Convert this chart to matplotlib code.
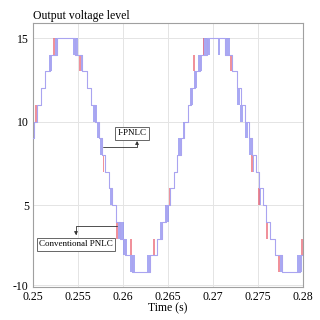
import matplotlib
matplotlib.use("Agg")
import matplotlib.pyplot as plt
import numpy as np

plt.rcParams['font.family'] = ['Liberation Serif', 'DejaVu Serif']

# staircase: switching instants (ms) and the level reached after each one
start_level = 8
edges_ms = [249.72, 250.10, 250.50, 250.92, 251.38, 251.93, 252.69,
            254.70, 255.46, 256.01, 256.47, 256.89, 257.29, 257.67, 258.05,
            258.45, 258.83, 259.25, 259.71, 260.26, 261.02,
            263.04, 263.80, 264.35, 264.81, 265.23, 265.63, 266.01, 266.39,
            266.77, 267.17, 267.59, 268.05, 268.60, 269.36,
            271.37, 272.13, 272.68, 273.14, 273.56, 273.96, 274.34, 274.72,
            275.12, 275.50, 275.92, 276.38, 276.93, 277.69,
            279.71]
levels = [9, 10, 11, 12, 13, 14, 15,
          14, 13, 12, 11, 10, 9, 8, 7, 6, 5, 4, 3, 2, 1,
          2, 3, 4, 5, 6, 7, 8, 9, 10, 11, 12, 13, 14, 15,
          14, 13, 12, 11, 10, 9, 8, 7, 6, 5, 4, 3, 2, 1,
          2]

# I-PNLC chattering bands: centre (ms), lower level, width (ms)
ipnlc_t = [250.10, 251.95, 252.55, 254.72, 255.45, 256.90, 257.30, 257.65,
           258.70, 259.80, 260.20, 261.05, 262.90, 264.30, 264.90, 266.30,
           266.80, 267.60, 268.05, 268.55, 269.30, 270.65, 271.60, 272.85,
           273.20, 273.70, 274.20, 274.50, 275.20, 277.60, 279.60]
ipnlc_lo = [9, 13, 14, 14, 13, 10, 9, 8,
            5, 3, 2, 1, 1, 3, 4, 8,
            9, 11, 12, 13, 14, 14, 14, 11,
            10, 9, 8, 7, 5, 1, 1]
ipnlc_w = [0.25, 0.25, 0.25, 0.55, 0.25, 0.40, 0.30, 0.30,
           0.25, 0.70, 0.40, 0.50, 0.40, 0.30, 0.45, 0.35,
           0.25, 0.35, 0.35, 0.45, 0.75, 0.25, 0.55, 0.35,
           0.35, 0.35, 0.45, 0.20, 0.25, 0.35, 0.60]

# conventional PNLC chattering bands
conv_t = [250.35, 252.35, 255.25, 257.80, 259.30, 260.90, 263.45, 265.20,
          267.90, 268.95, 272.00, 274.35, 275.10, 276.00, 277.35, 279.90]
conv_lo = [10, 14, 13, 7, 3, 2, 2, 5,
           13, 14, 13, 7, 5, 3, 1, 2]
conv_w = [0.15, 0.20, 0.20, 0.15, 0.20, 0.15, 0.20, 0.20,
          0.15, 0.20, 0.30, 0.15, 0.20, 0.25, 0.25, 0.20]

xticks = [0.25, 0.255, 0.26, 0.265, 0.27, 0.275, 0.28]
xtick_labels = ['0.25', '0.255', '0.26', '0.265', '0.27', '0.275', '0.28']
yticks = [0.2, 5, 10, 15]
ytick_labels = ['-10', '5', '10', '15']

fig = plt.figure(figsize=(3.2, 3.2), dpi=100)
ax = fig.add_axes([0.103, 0.103, 0.844, 0.825])

t = np.array([245.0] + edges_ms + [285.0]) / 1000
v = [start_level] + levels + [levels[-1]]
ax.step(t, v, where='post', color='#aaa4f0', lw=0.8, zorder=3)

ax.bar(np.array(ipnlc_t) / 1000, 1, width=np.array(ipnlc_w) / 1000,
       bottom=ipnlc_lo, color='#7c7cee', alpha=0.65, lw=0, zorder=2)
ax.bar(np.array(conv_t) / 1000, 1, width=np.array(conv_w) / 1000,
       bottom=conv_lo, color='#ec6c7a', alpha=0.75, lw=0, zorder=2)

ax.set_xlim(0.25, 0.28)
ax.set_ylim(0.1, 15.9)
ax.set_xticks(xticks)
ax.set_xticklabels(xtick_labels)
ax.set_yticks(yticks)
ax.set_yticklabels(ytick_labels)
ax.tick_params(length=0, labelsize=8.5, pad=3)
ax.grid(True, color='#e4e4e4', lw=0.7)
ax.set_axisbelow(True)
for s in ax.spines.values():
    s.set_color('#a0a0a0')
    s.set_linewidth(0.8)

ax.set_title('Output voltage level', loc='left', fontsize=8.5, pad=3)
ax.set_xlabel('Time (s)', fontsize=8.5, labelpad=-1)

box = dict(boxstyle='square,pad=0.25', fc='white', ec='#666666', lw=0.7)
ax.text(0.2610, 9.3, 'I-PNLC', fontsize=6.5, ha='center', va='center',
        bbox=box, zorder=5)
ax.annotate('', xy=(0.26156, 8.85), xytext=(0.25778, 8.47),
            arrowprops=dict(arrowstyle='-|>', mutation_scale=5, lw=0.6,
                            color='#333333', shrinkA=0, shrinkB=0,
                            connectionstyle='angle,angleA=0,angleB=90'),
            zorder=5)
ax.text(0.25478, 2.66, 'Conventional PNLC', fontsize=6.5, ha='center',
        va='center', bbox=box, zorder=5)
ax.annotate('', xy=(0.25478, 3.2), xytext=(0.25933, 3.74),
            arrowprops=dict(arrowstyle='-|>', mutation_scale=5, lw=0.6,
                            color='#333333', shrinkA=0, shrinkB=0,
                            connectionstyle='angle,angleA=0,angleB=90'),
            zorder=5)

fig.savefig('out.png', dpi=100)
